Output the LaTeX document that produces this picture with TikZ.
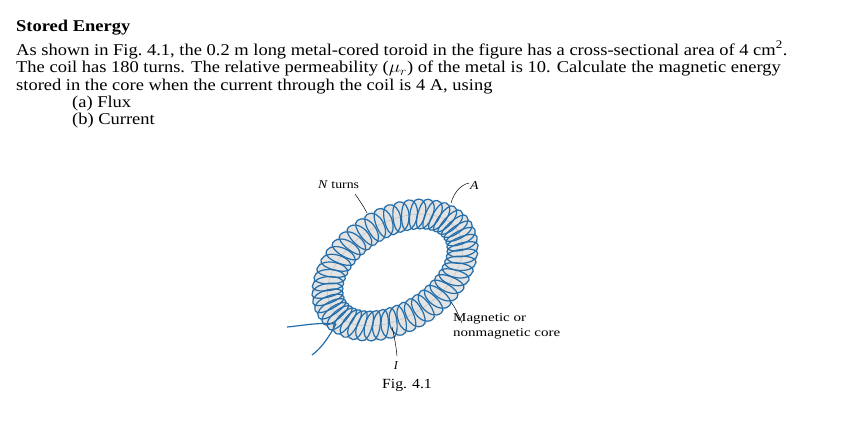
\documentclass[tikz,border=0pt]{standalone}
\usepackage{fontspec}
\setmainfont{Liberation Serif}
\usetikzlibrary{calc}
\definecolor{coilc}{RGB}{35,110,170}
\newcommand{\hs}[2]{\scalebox{#1}[1]{#2}}
\begin{document}
\begin{tikzpicture}[x=1pt,y=-1pt,
  body/.style={anchor=base west,inner sep=0pt,font=\fontsize{16.5}{18}\selectfont},
  lab/.style={inner sep=0pt,font=\fontsize{12}{15}\selectfont},
  coil/.style={draw=coilc,line width=1.2pt},
  lead/.style={draw=black,line width=0.5pt}]
\useasboundingbox (0,0) rectangle (842,432);
\node[body,font=\bfseries\fontsize{16.5}{18}\selectfont] (title) at (16,31) {\hs{1.12}{Stored Energy}};
\node[body] (l1) at (16,55) {\hs{1.12}{As shown in Fig.~4.1, the 0.2 m long metal-cored toroid in the figure has a cross-sectional area of 4 cm\textsuperscript{2}.}};
\node[body] (l2) at (16,72.5) {\hs{1.12}{The coil has 180 turns. The relative permeability ($\mu_r$) of the metal is 10. Calculate the magnetic energy}};
\node[body] (l3) at (16,90) {\hs{1.12}{stored in the core when the current through the coil is 4 A, using}};
\node[body] (a) at (72,107) {\hs{1.12}{(a) Flux}};
\node[body] (b) at (72,124.5) {\hs{1.12}{(b) Current}};
% toroid
\begin{scope}[shift={(395,270)},rotate=32]
  \fill[gray!22,even odd rule] (0,0) ellipse [x radius=90,y radius=62] (0,0) ellipse [x radius=58,y radius=32];
  \draw[gray!55,line width=0.4pt] (0,0) ellipse [x radius=74,y radius=47];
  \foreach \t in {0,7.2,...,353}{
    \coordinate (i) at ({58*cos(\t)},{32*sin(\t)});
    \coordinate (o) at ({90*cos(\t)},{62*sin(\t)});
    \path[coil] (i) .. controls ($(i)+({-13*sin(\t)},{9*cos(\t)})$) and ($(o)+({-15*sin(\t)},{12*cos(\t)})$) .. (o)
                    .. controls ($(o)+({9*sin(\t)},{-8*cos(\t)})$) and ($(i)+({8*sin(\t)},{-6*cos(\t)})$) .. (i);
  }
\end{scope}
\coordinate (w0) at (336,324);
\coordinate (w1) at (287,327);
\coordinate (w2) at (312,355);
\draw[coil] (w0) .. controls (318,322) and (300,326) .. (w1);
\draw[coil] (w0) .. controls (330,335) and (322,348) .. (w2);
% labels
\node[lab,anchor=base west] (nt) at (318,188) {\hs{1.15}{\textit{N} turns}};
\coordinate (ntp) at (367,213);
\draw[lead] (355,194) .. controls (360,201) and (364,207) .. (ntp);
\node[lab,anchor=base west] (A) at (470,189) {\hs{1.15}{\textit{A}}};
\coordinate (Ap) at (451,203);
\draw[lead] (469,183) .. controls (460,185) and (454,193) .. (Ap);
\node[lab,anchor=base west,align=left] (core) at (453,336) {\hs{1.25}{Magnetic or}\\\hs{1.25}{nonmagnetic core}};
\coordinate (cp) at (451,302);
\draw[lead] (462,323) .. controls (458,314) and (455,307) .. (cp);
\node[lab,anchor=base] (I) at (396,369) {\textit{I}};
\coordinate (Ip) at (392,327);
\draw[lead] (397,356) .. controls (396,345) and (394,335) .. (Ip);
\node[body,anchor=base,font=\fontsize{14}{15}\selectfont] (fig) at (407,388) {\hs{1.12}{Fig. 4.1}};
\end{tikzpicture}
\end{document}
